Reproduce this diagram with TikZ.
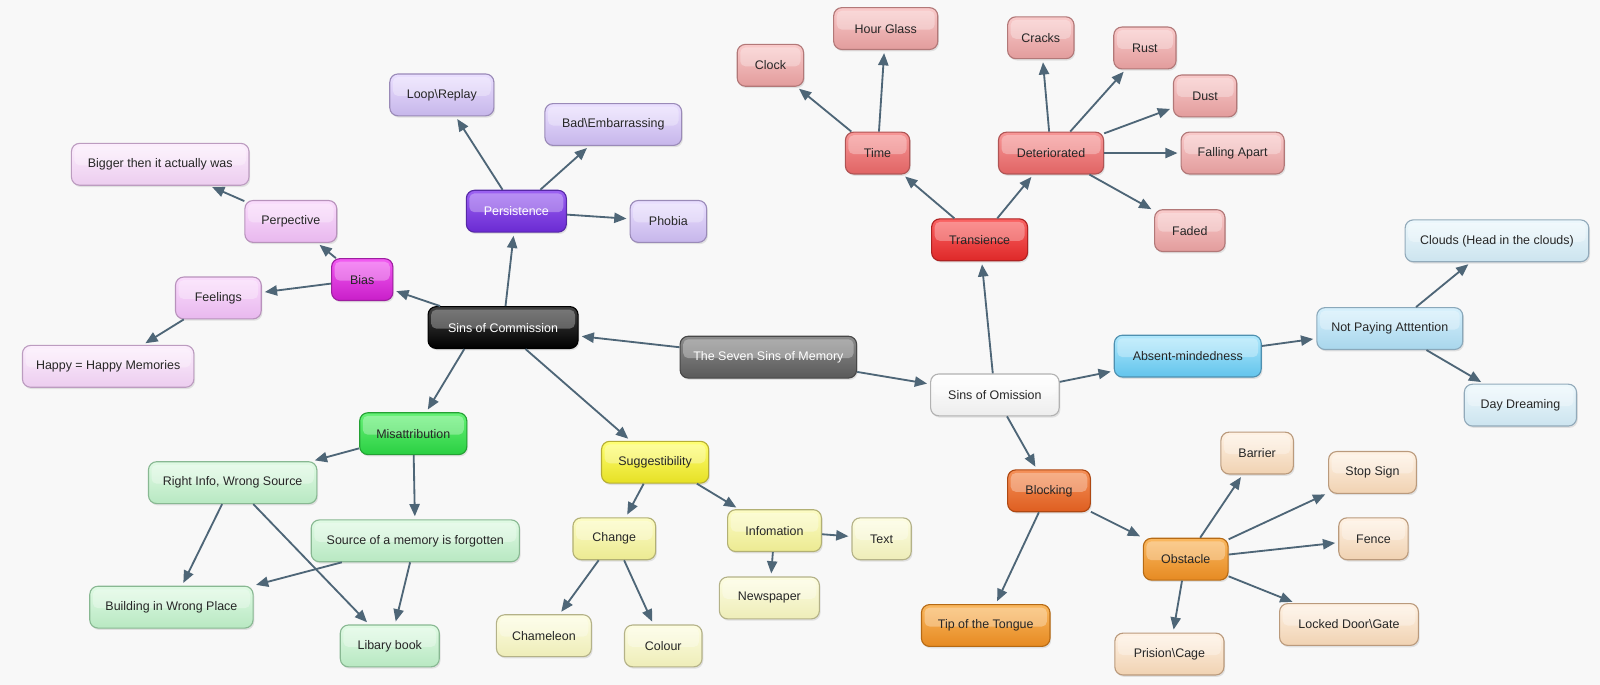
\documentclass[tikz,border=0pt]{standalone}
\usepackage{fontspec}
\setmainfont{Liberation Sans}
\usetikzlibrary{arrows.meta,shadows}
\definecolor{bgc}{HTML}{F8F8F8}
\definecolor{arrowc}{HTML}{4E6677}
\definecolor{persT}{HTML}{9C62F2}\definecolor{persB}{HTML}{6A2AD2}\definecolor{persD}{HTML}{5628A6}
\definecolor{purT}{HTML}{EADFFF}\definecolor{purB}{HTML}{C6B6EA}\definecolor{purD}{HTML}{9A8AB8}
\definecolor{biasT}{HTML}{F25CF2}\definecolor{biasB}{HTML}{C81EC8}\definecolor{biasD}{HTML}{9E1EA0}
\definecolor{pinkmT}{HTML}{FADCFC}\definecolor{pinkmB}{HTML}{E8B8EE}\definecolor{pinkmD}{HTML}{B892BC}
\definecolor{pinkT}{HTML}{FCEEFD}\definecolor{pinkB}{HTML}{ECCDEF}\definecolor{pinkD}{HTML}{BC9CC0}
\definecolor{misT}{HTML}{66F277}\definecolor{misB}{HTML}{2ACF42}\definecolor{misD}{HTML}{24A034}
\definecolor{greenT}{HTML}{E0FAE4}\definecolor{greenB}{HTML}{B8E8C2}\definecolor{greenD}{HTML}{88B892}
\definecolor{suggT}{HTML}{FFFF74}\definecolor{suggB}{HTML}{E6E024}\definecolor{suggD}{HTML}{B6AE34}
\definecolor{yelmT}{HTML}{FCFCC4}\definecolor{yelmB}{HTML}{ECEA92}\definecolor{yelmD}{HTML}{B2B074}
\definecolor{yelT}{HTML}{FDFDE2}\definecolor{yelB}{HTML}{EEEDB8}\definecolor{yelD}{HTML}{B4B288}
\definecolor{transT}{HTML}{FA6464}\definecolor{transB}{HTML}{DE2828}\definecolor{transD}{HTML}{AE2222}
\definecolor{redmT}{HTML}{F79696}\definecolor{redmB}{HTML}{E06464}\definecolor{redmD}{HTML}{B05454}
\definecolor{redT}{HTML}{F9CACA}\definecolor{redB}{HTML}{E29C9C}\definecolor{redD}{HTML}{B27878}
\definecolor{absT}{HTML}{B0E8FC}\definecolor{absB}{HTML}{62C4EC}\definecolor{absD}{HTML}{4E90B0}
\definecolor{bluemT}{HTML}{D6F0FC}\definecolor{bluemB}{HTML}{A8D6EC}\definecolor{bluemD}{HTML}{8AA8BA}
\definecolor{blueT}{HTML}{EDF8FC}\definecolor{blueB}{HTML}{CCE4EF}\definecolor{blueD}{HTML}{92AABA}
\definecolor{blockT}{HTML}{F59058}\definecolor{blockB}{HTML}{DE5E20}\definecolor{blockD}{HTML}{AE4812}
\definecolor{obstT}{HTML}{FAB860}\definecolor{obstB}{HTML}{E68A22}\definecolor{obstD}{HTML}{B66A14}
\definecolor{peachT}{HTML}{FFF2E4}\definecolor{peachB}{HTML}{F0D2B2}\definecolor{peachD}{HTML}{BA9A7C}
\definecolor{txt}{HTML}{262626}
\begin{document}
\begin{tikzpicture}[x=1pt,y=-1pt,
  bx/.style n args={4}{rectangle, rounded corners=8pt, draw=#3, line width=1.1pt,
    top color=#1, bottom color=#2, text=#4, minimum height=41pt, inner sep=2pt,
    font=\fontsize{12.2}{14}\selectfont,
    drop shadow={shadow xshift=1.2pt, shadow yshift=-1.8pt, opacity=0.2},
    path picture={\fill[white,opacity=0.3,rounded corners=5pt]
      ([xshift=3pt,yshift=-3pt]path picture bounding box.north west) rectangle
      ([xshift=-3pt,yshift=-1pt]path picture bounding box.east);}},
  commc/.style={bx={black!75}{black}{black}{white}},
  sevenc/.style={bx={black!45}{black!65}{black!72}{white}},
  omisc/.style={bx={white}{black!7}{black!30}{txt}},
  persc/.style={bx={persT}{persB}{persD}{white}},
  purc/.style={bx={purT}{purB}{purD}{txt}},
  biasc/.style={bx={biasT}{biasB}{biasD}{txt}},
  pinkmc/.style={bx={pinkmT}{pinkmB}{pinkmD}{txt}},
  pinkc/.style={bx={pinkT}{pinkB}{pinkD}{txt}},
  misc/.style={bx={misT}{misB}{misD}{txt}},
  greenc/.style={bx={greenT}{greenB}{greenD}{txt}},
  suggc/.style={bx={suggT}{suggB}{suggD}{txt}},
  yelmc/.style={bx={yelmT}{yelmB}{yelmD}{txt}},
  yelc/.style={bx={yelT}{yelB}{yelD}{txt}},
  transc/.style={bx={transT}{transB}{transD}{txt}},
  redmc/.style={bx={redmT}{redmB}{redmD}{txt}},
  redc/.style={bx={redT}{redB}{redD}{txt}},
  absc/.style={bx={absT}{absB}{absD}{txt}},
  bluemc/.style={bx={bluemT}{bluemB}{bluemD}{txt}},
  bluec/.style={bx={blueT}{blueB}{blueD}{txt}},
  blockc/.style={bx={blockT}{blockB}{blockD}{txt}},
  obstc/.style={bx={obstT}{obstB}{obstD}{txt}},
  peachc/.style={bx={peachT}{peachB}{peachD}{txt}},
  arr/.style={draw=arrowc, line width=1.8pt, -{Triangle[length=12pt,width=10pt]}, shorten >=3pt}
]
\fill[bgc] (0,0) rectangle (1568,671);
\useasboundingbox (0,0) rectangle (1568,671);

% centre
\node[sevenc, minimum width=173pt] (seven) at (753,350) {The Seven Sins of Memory};
\node[commc, minimum width=147pt] (comm) at (493,321) {Sins of Commission};
\node[omisc, minimum width=126pt] (omis) at (975,387) {Sins of Omission};

% bias
\node[biasc, minimum width=60pt] (bias) at (355,274) {Bias};
\node[pinkmc, minimum width=90pt] (perp) at (285,217) {Perpective};
\node[pinkmc, minimum width=84pt] (feel) at (214,292) {Feelings};
\node[pinkc, minimum width=174pt] (bigger) at (157,161) {Bigger then it actually was};
\node[pinkc, minimum width=168pt] (happy) at (106,359) {Happy = Happy Memories};

% persistence
\node[persc, minimum width=98pt] (pers) at (506,207) {Persistence};
\node[purc, minimum width=102pt] (loop) at (433,93) {Loop\textbackslash Replay};
\node[purc, minimum width=134pt] (bad) at (601,122) {Bad\textbackslash Embarrassing};
\node[purc, minimum width=75pt] (phobia) at (655,217) {Phobia};

% misattribution
\node[misc, minimum width=105pt] (misat) at (405,425) {Misattribution};
\node[greenc, minimum width=165pt] (right) at (228,473) {Right Info, Wrong Source};
\node[greenc, minimum width=204pt] (source) at (407,530) {Source of a memory is forgotten};
\node[greenc, minimum width=160pt] (build) at (168,595) {Building in Wrong Place};
\node[greenc, minimum width=97pt] (lib) at (382,633) {Libary book};

% suggestibility
\node[suggc, minimum width=105pt] (sugg) at (642,453) {Suggestibility};
\node[yelmc, minimum width=81pt] (change) at (602,528) {Change};
\node[yelmc, minimum width=92pt] (info) at (759,520) {Infomation};
\node[yelc, minimum width=58pt] (text) at (864,528) {Text};
\node[yelc, minimum width=98pt] (news) at (754,586) {Newspaper};
\node[yelc, minimum width=93pt] (cham) at (533,623) {Chameleon};
\node[yelc, minimum width=76pt] (colour) at (650,633) {Colour};

% transience
\node[transc, minimum width=94pt] (trans) at (960,235) {Transience};
\node[redmc, minimum width=63pt] (time) at (860,150) {Time};
\node[redmc, minimum width=103pt] (det) at (1030,150) {Deteriorated};
\node[redc, minimum width=65pt] (clock) at (755,64) {Clock};
\node[redc, minimum width=102pt] (hour) at (868,28) {Hour Glass};
\node[redc, minimum width=65pt] (cracks) at (1020,37) {Cracks};
\node[redc, minimum width=61pt] (rust) at (1122,47) {Rust};
\node[redc, minimum width=62pt] (dust) at (1181,94) {Dust};
\node[redc, minimum width=101pt] (fall) at (1208,150) {Falling Apart};
\node[redc, minimum width=69pt] (faded) at (1166,226) {Faded};

% absent-mindedness
\node[absc, minimum width=144pt] (absent) at (1164,349) {Absent-mindedness};
\node[bluemc, minimum width=143pt] (notpay) at (1362,322) {Not Paying Atttention};
\node[bluec, minimum width=180pt] (clouds) at (1467,236) {Clouds (Head in the clouds)};
\node[bluec, minimum width=110pt] (day) at (1490,397) {Day Dreaming};

% blocking
\node[blockc, minimum width=81pt] (block) at (1028,481) {Blocking};
\node[obstc, minimum width=83pt] (obst) at (1162,548) {Obstacle};
\node[obstc, minimum width=126pt] (tip) at (966,613) {Tip of the Tongue};
\node[peachc, minimum width=71pt] (barrier) at (1232,444) {Barrier};
\node[peachc, minimum width=86pt] (stop) at (1345,463) {Stop Sign};
\node[peachc, minimum width=68pt] (fence) at (1346,528) {Fence};
\node[peachc, minimum width=136pt] (locked) at (1322,612) {Locked Door\textbackslash Gate};
\node[peachc, minimum width=107pt] (prision) at (1146,641) {Prision\textbackslash Cage};

% connectors
\draw[arr] (seven) -- (comm);
\draw[arr] (seven) -- (omis);

\draw[arr] (comm) -- (bias);
\draw[arr] (comm) -- (pers);
\draw[arr] ([xshift=-38pt]comm.south) -- (misat);
\draw[arr] ([xshift=22pt]comm.south) -- (sugg);

\draw[arr] (bias) -- (perp);
\draw[arr] (bias) -- (feel);
\draw[arr] (perp) -- (bigger);
\draw[arr] (feel) -- (happy);

\draw[arr] (pers) -- (loop);
\draw[arr] (pers) -- (bad);
\draw[arr] (pers) -- (phobia);

\draw[arr] (misat) -- (right);
\draw[arr] (misat) -- (source);
\draw[arr] (right) -- (build);
\draw[arr] (right) -- (lib);
\draw[arr] ([xshift=-72pt]source.south) -- (build);
\draw[arr] (source) -- (lib);

\draw[arr] (sugg) -- (change);
\draw[arr] ([xshift=41pt]sugg.south) -- (info);
\draw[arr] (change) -- (cham);
\draw[arr] (change) -- (colour);
\draw[arr] (info) -- (text);
\draw[arr] (info) -- (news);

\draw[arr] (omis) -- (trans);
\draw[arr] (omis) -- (absent);
\draw[arr] (omis) -- (block);

\draw[arr] (trans) -- (time);
\draw[arr] (trans) -- (det);
\draw[arr] (time) -- (clock);
\draw[arr] (time) -- (hour);
\draw[arr] (det) -- (cracks);
\draw[arr] (det) -- (rust);
\draw[arr] (det) -- (dust);
\draw[arr] (det) -- (fall);
\draw[arr] (det) -- (faded);

\draw[arr] (absent) -- (notpay);
\draw[arr] (notpay) -- (clouds);
\draw[arr] (notpay) -- (day);

\draw[arr] (block) -- (obst);
\draw[arr] (block) -- (tip);
\draw[arr] (obst) -- (barrier);
\draw[arr] (obst) -- (stop);
\draw[arr] (obst) -- (fence);
\draw[arr] (obst) -- (locked);
\draw[arr] (obst) -- (prision);
\end{tikzpicture}
\end{document}
